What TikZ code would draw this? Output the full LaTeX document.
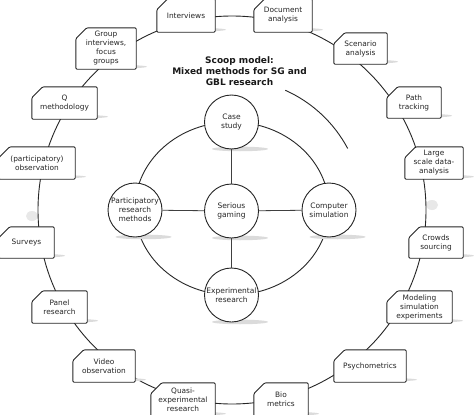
\documentclass[tikz,border=0pt]{standalone}
\usepackage{fontspec}
\setmainfont{DejaVu Sans}
\usetikzlibrary{shapes.geometric}
\pgfdeclarelayer{paper}
\pgfdeclarelayer{ringlayer}
\pgfdeclarelayer{boxlayer}
\pgfsetlayers{paper,ringlayer,boxlayer,main}
\begin{document}
\begin{tikzpicture}[x=1pt,y=-1pt,
  lbl/.style={font=\fontsize{7.4}{9}\selectfont, align=center, inner sep=0pt, text=black!85},
  boxline/.style={draw=black!85, fill=white, line width=0.9pt, rounded corners=1.2pt},
  cnode/.style={circle, draw=black!85, fill=white, line width=0.9pt, minimum size=54pt, inner sep=0pt, align=center, font=\fontsize{7.5}{9}\selectfont, text=black!85},
  ringline/.style={draw=black!85, line width=0.9pt},
  spoke/.style={draw=black!75, line width=0.8pt},
  shadowc/.style={fill=black!14},
  faintc/.style={fill=black!9},
  titlef/.style={font=\bfseries\fontsize{9}{11.2}\selectfont, align=center, inner sep=0pt, text=black!90}]
\useasboundingbox (0,0) rectangle (474,415);
\begin{pgfonlayer}{paper}
  \fill[white] (0,0) rectangle (474,415);
\end{pgfonlayer}

% outer ring and inner ring
\begin{pgfonlayer}{ringlayer}
  \fill[faintc] (32,216) ellipse [x radius=6pt, y radius=5pt];
  \fill[faintc] (432,205) ellipse [x radius=6pt, y radius=5pt];
  \node[circle, ringline, minimum size=388pt, inner sep=0pt] (ring) at (232,210) {};
  \node[ellipse, ringline, minimum width=194pt, minimum height=173pt, inner sep=0pt] (inner) at (232,208.5) {};
\end{pgfonlayer}

% outer method boxes
\foreach \nm/\cx/\cy/\ww/\hh/\txt in {
  intv/186/15.5/58/33/{Interviews},
  doc/283/15.5/58/33/{Document\\analysis},
  scen/360.5/48.5/53/31/{Scenario\\analysis},
  path/414/102.5/54/31/{Path\\tracking},
  large/434/163/58/32/{Large\\scale data-\\analysis},
  crowd/436/242.5/54/31/{Crowds\\sourcing},
  model/419.5/307/65/32/{Modeling\\simulation\\experiments},
  psych/370/366/72/32/{Psychometrics},
  bio/281/399.5/54/33/{Bio\\metrics},
  quasi/183/399.5/64/33/{Quasi-\\experimental\\research},
  video/104/366/62/32/{Video\\observation},
  panel/59.5/307/55/32/{Panel\\research},
  surv/26.5/242.5/55/31/{Surveys},
  obs/37/163/76/32/{(participatory)\\observation},
  qm/64.5/103/65/32/{Q\\methodology},
  group/106/48.5/60/41/{Group\\interviews,\\focus\\groups}}{
  \node[lbl, minimum width=\ww pt, minimum height=\hh pt] (\nm) at (\cx,\cy) {\txt};
  \begin{pgfonlayer}{boxlayer}
    \path[boxline] ([yshift=-11pt]\nm.north west) -- ([xshift=11pt]\nm.north west)
      -- (\nm.north east) -- (\nm.south east) -- (\nm.south west) -- cycle;
  \end{pgfonlayer}
  \begin{pgfonlayer}{ringlayer}
    \fill[shadowc] ([xshift=11pt,yshift=2.5pt]\nm.south) ellipse [x radius={\ww*0.5pt}, y radius=1.8pt];
  \end{pgfonlayer}
}

% title
\node[titlef] (title) at (239.5,71) {Scoop model:\\Mixed methods for SG and\\GBL research};

% decorative arc
\draw[ringline] (285.3,90.3) arc[start angle=66, end angle=28, radius=131pt];

% inner circles
\node[cnode] (case) at (231.5,122) {Case\\study};
\node[cnode] (sg) at (231.5,211) {Serious\\gaming};
\node[cnode] (part) at (135,210) {Participatory\\research\\methods};
\node[cnode] (comp) at (329,210) {Computer\\simulation};
\node[cnode] (exp) at (231.5,295) {Experimental\\research};

\begin{pgfonlayer}{ringlayer}
  \foreach \c in {case,sg,part,comp,exp}{
    \fill[shadowc] ([xshift=8.5pt,yshift=0.5pt]\c.south) ellipse [x radius=28pt, y radius=2.3pt];
  }
\end{pgfonlayer}

% spokes
\draw[spoke] (sg) -- (case);
\draw[spoke] (sg) -- (part);
\draw[spoke] (sg) -- (comp);
\draw[spoke] (sg) -- (exp);
\end{tikzpicture}
\end{document}
